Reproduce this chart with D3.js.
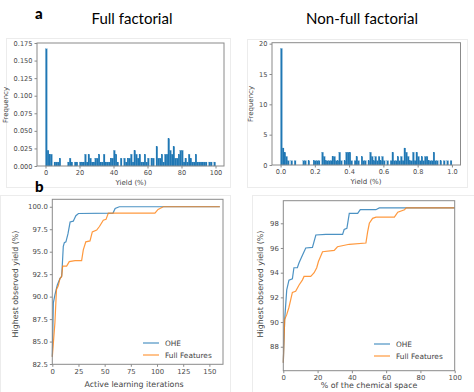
<!DOCTYPE html>
<html>
<head>
<meta charset="utf-8">
<script src="https://cdn.jsdelivr.net/npm/d3@7"></script>
<style>
  body { margin: 0; background: #fff; }
  svg { display: block; }
  .tick text { font-family: "DejaVu Sans", sans-serif; fill: #4a4a4a; }
  .tick line, .domain { stroke: #8a8a8a; }
</style>
</head>
<body>
<div id="fig"></div>
<script>
// Figure a: yield histograms, figure b: active learning curves

// histogram a, full factorial (bin width 1, density)
const fullBinWidth = 1;
const fullFreq = [
  0.1667, 0.0222, 0.0167, 0.0167, 0, 0.0056, 0.0056, 0.0056, 0.0111, 0,
  0, 0, 0, 0.0056, 0.0111, 0.0056, 0, 0.0056, 0.0056, 0,
  0.0056, 0.0056, 0.0056, 0.0167, 0.0056, 0.0167, 0.0111, 0.0056, 0.0056, 0.0111,
  0.0111, 0.0167, 0.0056, 0.0056, 0.0167, 0.0056, 0.0056, 0.0056, 0.0111, 0.0111,
  0.0222, 0.0167, 0.0056, 0, 0.0111, 0, 0.0111, 0.0056, 0.0111, 0.0111,
  0.0167, 0.0056, 0.0222, 0.0167, 0.0111, 0.0167, 0.0056, 0.0056, 0.0167, 0.0056,
  0.0111, 0, 0.0111, 0.0111, 0, 0.0278, 0.0111, 0.0111, 0.0167, 0.0056,
  0.0167, 0.0167, 0.0389, 0.0222, 0.0167, 0.0278, 0.0111, 0.0111, 0.0167, 0.0222,
  0.0222, 0.0056, 0.0111, 0.0056, 0.0167, 0.0111, 0.0056, 0.0056, 0.0167, 0.0056,
  0.0056, 0.0056, 0.0056, 0.0056, 0.0056, 0, 0.0056, 0.0056, 0, 0.0056
];
const fullXTicks = [0, 20, 40, 60, 80, 100];
const fullYTicks = [0, 0.025, 0.05, 0.075, 0.1, 0.125, 0.15, 0.175];

// histogram a, non-full factorial (bin width 0.01)
const partBinWidth = 0.01;
const partFreq = [
  19.2, 2.8, 2.1, 1.4, 0.7, 0, 0.7, 0, 0.7, 0,
  0, 0, 0, 0.7, 0.7, 0, 0.7, 0, 0, 0.7,
  0.7, 0.7, 0.7, 0, 2.1, 1.4, 0.7, 0.7, 0.7, 0.7,
  1.4, 1.4, 0.7, 0.7, 2.1, 0.7, 0, 0.7, 2.1, 2.1,
  2.1, 0.7, 0, 0.7, 1.4, 0.7, 0, 1.4, 0.7, 0.7,
  0, 0.7, 2.1, 1.4, 0.7, 1.4, 0.7, 1.4, 0.7, 1.4,
  0.7, 0, 0.7, 0, 0.7, 2.1, 0.7, 0.7, 1.4, 0.7,
  1.4, 0.7, 2.8, 2.1, 1.4, 0.7, 0.7, 2.1, 0.7, 2.1,
  1.4, 0.7, 1.4, 0.7, 1.4, 1.4, 0.7, 0.7, 0.7, 2.1,
  0.7, 0.7, 0, 0.7, 0, 0.7, 0, 0.7, 0, 0.7
];
const partXTicks = [0, 0.2, 0.4, 0.6, 0.8, 1.0];
const partYTicks = [0, 5, 10, 15, 20];

// curves b, left: [iteration, highest yield]
const iterOHE = [
  [0, 83.3], [1, 89.3], [2.5, 90.2], [4.8, 91.3], [7.3, 92.0], [9, 92.3],
  [10.5, 95.6], [11.5, 96.0], [13, 96.1], [15, 97.0], [17, 98.3], [20, 98.4],
  [22.5, 99.0], [25, 99.25], [58, 99.3], [60, 99.8], [64, 100], [160, 100]
];
const iterFull = [
  [0, 83.3], [2.5, 87.1], [4, 90.8], [5.7, 91.2], [7.3, 92.0], [8.9, 92.2],
  [9.9, 93.4], [13.7, 93.4], [16.2, 93.9], [21.7, 94.0], [28, 94.0], [29.6, 95.2],
  [32, 96.1], [36, 96.2], [38.2, 97.2], [42.4, 97.4], [45, 97.8], [48.7, 98.5],
  [51.3, 98.6], [53.5, 99.3], [98, 99.3], [101, 99.7], [106, 100], [160, 100]
];
const iterXTicks = [0, 25, 50, 75, 100, 125, 150];
const iterYTicks = [82.5, 85, 87.5, 90, 92.5, 95, 97.5, 100];

// curves b, right: [% of chemical space, highest yield]
const spaceOHE = [
  [0, 86.7], [0.8, 90.2], [2, 92.6], [3.3, 93.4], [5.3, 93.5], [6.2, 94.4],
  [8.2, 94.4], [9.2, 94.8], [11.1, 95.4], [12.1, 95.7], [13.1, 96.0], [17, 96.05],
  [19, 97.05], [24.8, 97.1], [34.6, 97.1], [35.5, 97.5], [37.1, 97.6], [38.5, 98.8],
  [43.4, 98.8], [44.9, 99.1], [54, 99.1], [56, 99.25], [100, 99.25]
];
const spaceFull = [
  [0, 86.7], [0.8, 90.2], [2, 90.6], [3.3, 91.2], [5.3, 92.4], [7.2, 92.5],
  [9.2, 93.0], [11.1, 93.4], [12.1, 93.7], [16, 93.7], [18, 94.0], [19.5, 94.4],
  [20.5, 94.9], [22.9, 95.7], [29.7, 95.8], [31.6, 96.1], [38.5, 96.3], [48.2, 96.4],
  [49.2, 97.3], [50.2, 98.0], [52.1, 98.4], [54.1, 98.5], [64.8, 98.5], [66.8, 98.9],
  [70.7, 99.1], [71.7, 99.25], [100, 99.25]
];
const spaceXTicks = [0, 20, 40, 60, 80, 100];
const spaceYTicks = [88, 90, 92, 94, 96, 98];

const legendNames = ['OHE', 'Full Features'];
const colors = { blue: '#1f77b4', orange: '#ff7f0e' };

const W = 474, H = 392;
const svg = d3.select('#fig').append('svg')
  .attr('width', W).attr('height', H);
svg.append('rect').attr('width', W).attr('height', H).attr('fill', '#fff');

// faint screenshot frames around each panel
const frames = [[6, 38, 224, 149], [247, 39, 220, 148], [0, 195, 230, 197], [252, 195, 222, 197]];
svg.selectAll('rect.frame').data(frames).enter().append('rect')
  .attr('class', 'frame')
  .attr('x', d => d[0] + 0.5).attr('y', d => d[1] + 0.5)
  .attr('width', d => d[2]).attr('height', d => d[3])
  .attr('fill', 'none').attr('stroke', '#ececec');

// panel titles
const titleFont = 'Lato, "Open Sans", sans-serif';
svg.append('text').attr('x', 35).attr('y', 19).text('a')
  .style('font', `900 15px ${titleFont}`);
svg.append('text').attr('x', 35).attr('y', 192).text('b')
  .style('font', `900 15px ${titleFont}`);
svg.append('text').attr('x', 132).attr('y', 24).attr('text-anchor', 'middle')
  .text('Full factorial').style('font', `15px ${titleFont}`);
svg.append('text').attr('x', 362).attr('y', 24).attr('text-anchor', 'middle')
  .text('Non-full factorial').style('font', `15px ${titleFont}`);

function axes(g, x, y, xt, yt, xf, yf, fs) {
  const b = y.range()[0], t = y.range()[1];
  const l = x.range()[0], r = x.range()[1];
  g.append('g').attr('transform', `translate(0,${b})`)
    .call(d3.axisBottom(x).tickValues(xt).tickFormat(xf).tickSize(2.5).tickPadding(2))
    .call(s => s.select('.domain').remove());
  g.append('g').attr('transform', `translate(${l},0)`)
    .call(d3.axisLeft(y).tickValues(yt).tickFormat(yf).tickSize(2.5).tickPadding(2))
    .call(s => s.select('.domain').remove());
  g.selectAll('.tick text').style('font-size', fs + 'px');
  g.append('rect').attr('x', l).attr('y', t)
    .attr('width', r - l).attr('height', b - t)
    .attr('fill', 'none').attr('stroke', '#8a8a8a').attr('stroke-width', 1);
}

function label(g, text, x, y, size, rotate) {
  g.append('text')
    .attr('transform', `translate(${x},${y})` + (rotate ? ' rotate(-90)' : ''))
    .attr('text-anchor', 'middle')
    .style('font-family', '"DejaVu Sans", sans-serif')
    .style('font-size', size + 'px')
    .style('fill', '#444')
    .text(text);
}

function histogram(freq, binW, xDom, xRange, yDom, yRange, xt, yt, xf, yf) {
  const g = svg.append('g');
  const x = d3.scaleLinear().domain(xDom).range(xRange);
  const y = d3.scaleLinear().domain(yDom).range(yRange);
  g.selectAll('rect.bar').data(freq).enter().append('rect')
    .attr('class', 'bar')
    .attr('x', (d, i) => x(i * binW))
    .attr('width', (d, i) => x((i + 1) * binW) - x(i * binW))
    .attr('y', d => y(d))
    .attr('height', d => y(0) - y(d))
    .attr('fill', colors.blue)
    .attr('stroke', colors.blue).attr('stroke-width', 0.2);
  axes(g, x, y, xt, yt, xf, yf, 6.6);
  return g;
}

function curves(a, b, xDom, xRange, yDom, yRange, xt, yt, xf, yf, legX, legY) {
  const g = svg.append('g');
  const x = d3.scaleLinear().domain(xDom).range(xRange);
  const y = d3.scaleLinear().domain(yDom).range(yRange);
  const line = d3.line().x(d => x(d[0])).y(d => y(d[1]));
  [[a, colors.blue], [b, colors.orange]].forEach(([data, c]) => {
    g.append('path').datum(data).attr('d', line)
      .attr('fill', 'none').attr('stroke', c)
      .attr('stroke-width', 1.2).attr('stroke-opacity', 0.8);
  });
  axes(g, x, y, xt, yt, xf, yf, 6.9);
  legendNames.forEach((n, i) => {
    const yy = legY + i * 12;
    g.append('line').attr('x1', legX).attr('x2', legX + 16)
      .attr('y1', yy).attr('y2', yy)
      .attr('stroke', i ? colors.orange : colors.blue).attr('stroke-width', 1.2)
      .attr('stroke-opacity', 0.8);
    g.append('text').attr('x', legX + 22).attr('y', yy + 2.6)
      .style('font-family', '"DejaVu Sans", sans-serif')
      .style('font-size', '7.4px').style('fill', '#444').text(n);
  });
  return g;
}

const gA1 = histogram(fullFreq, fullBinWidth, [-5, 105], [37, 224], [0, 0.175], [166, 43],
  fullXTicks, fullYTicks, d3.format('d'), d3.format('.3f'));
label(gA1, 'Yield (%)', 131, 185, 7);
label(gA1, 'Frequency', 8, 105, 7, true);

const gA2 = histogram(partFreq, partBinWidth, [-0.05, 1.05], [272, 460.5], [0, 20.16], [165, 42.7],
  partXTicks, partYTicks, d3.format('.1f'), d3.format('d'));
label(gA2, 'Yield (%)', 366, 184, 7);
label(gA2, 'Frequency', 253, 104, 7, true);

const gB1 = curves(iterOHE, iterFull, [0, 163], [52.3, 223], [82.47, 100.83], [364.3, 199.3],
  iterXTicks, iterYTicks, d3.format('d'), d3.format('.1f'), 143, 343);
label(gB1, 'Active learning iterations', 134, 387, 7.9);
label(gB1, 'Highest observed yield (%)', 18, 284, 7.9, true);

const gB2 = curves(spaceOHE, spaceFull, [0, 100], [283.3, 454.7], [86.06, 99.83], [370.7, 200.7],
  spaceXTicks, spaceYTicks, d3.format('d'), d3.format('d'), 374, 344);
label(gB2, '% of the chemical space', 369, 388, 7.9);
label(gB2, 'Highest observed yield (%)', 263, 284, 7.9, true);
</script>
</body>
</html>
